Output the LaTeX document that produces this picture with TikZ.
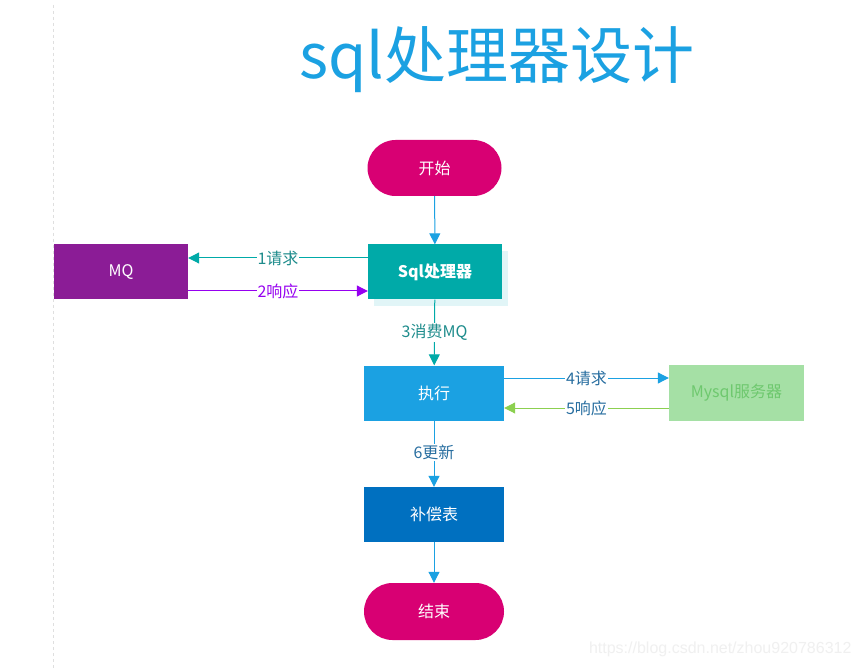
\documentclass[tikz,border=0pt]{standalone}
\usepackage{fontspec}
\setmainfont{Noto Sans CJK SC}
\newfontfamily\cjk{Noto Sans CJK SC}
\usetikzlibrary{arrows.meta,shapes.misc}
\definecolor{magentaA}{RGB}{216,0,115}
\definecolor{tealA}{RGB}{0,170,168}
\definecolor{tealT}{RGB}{30,140,140}
\definecolor{shadowA}{RGB}{225,245,247}
\definecolor{purpleA}{RGB}{139,28,150}
\definecolor{violetA}{RGB}{150,0,240}
\definecolor{blueA}{RGB}{27,161,226}
\definecolor{blueT}{RGB}{40,110,160}
\definecolor{navyA}{RGB}{0,112,192}
\definecolor{greenA}{RGB}{165,224,165}
\definecolor{greenT}{RGB}{110,200,110}
\definecolor{greenL}{RGB}{140,208,80}
\definecolor{titleA}{RGB}{27,161,226}
\tikzset{
  box/.style={rectangle, minimum width=#1, minimum height=55pt, inner sep=0pt, text=white, font=\cjk\fontsize{16}{18}\selectfont},
  box/.default=136pt,
  term/.style={rounded rectangle, fill=magentaA, minimum width=134pt, minimum height=56pt, inner sep=0pt, text=white, font=\cjk\fontsize{16}{18}\selectfont},
  conn/.style={line width=1pt, -{Triangle[width=11pt,length=11pt]}},
  lbl/.style={fill=white, inner sep=1pt, font=\cjk\fontsize{16}{18}\selectfont}
}
\begin{document}
\begin{tikzpicture}[x=1pt,y=-1pt]
\useasboundingbox (0,0) rectangle (862,668);
\fill[white] (0,0) rectangle (862,668);
\draw[gray!25, dashed, line width=0.8pt] (53,5) -- (53,668);
\node[text=titleA, font=\cjk\fontsize{62}{66}\selectfont] (title) at (497,60) {sql处理器设计};
% nodes
\node[term] (start) at (434.5,168) {开始};
\fill[shadowA] (374,251) rectangle (508,306);
\node[box=134pt, fill=tealA, font=\cjk\bfseries\fontsize{16}{18}\selectfont] (sql) at (435,272) {Sql处理器};
\node[box=134pt, fill=purpleA] (mq) at (121,272) {MQ};
\node[box=140pt, fill=blueA] (exec) at (434,393) {执行};
\node[box=135pt, minimum height=56pt, fill=greenA, text=greenT] (mysql) at (736.5,393) {Mysql服务器};
\node[box=140pt, fill=navyA] (comp) at (434,514.5) {补偿表};
\node[term, minimum width=140pt, minimum height=57pt] (end) at (434,611.5) {结束};
% connectors
\draw[conn, blueA] (start) -- (sql);
\draw[conn, tealA] ([yshift=14pt]sql.west) -- node[lbl, text=tealT] {1请求} ([yshift=14pt]mq.east);
\draw[conn, violetA] ([yshift=-19pt]mq.east) -- node[lbl, text=violetA] {2响应} ([yshift=-19pt]sql.west);
\draw[conn, tealA] (sql) -- node[lbl, text=tealT, pos=0.5] {3消费MQ} (exec);
\draw[conn, blueA] ([yshift=15pt]exec.east) -- node[lbl, text=blueT] {4请求} ([yshift=15pt]mysql.west);
\draw[conn, greenL] ([yshift=-15pt]mysql.west) -- node[lbl, text=blueT] {5响应} ([yshift=-15pt]exec.east);
\draw[conn, blueA] (exec) -- node[lbl, text=blueT, pos=0.48] {6更新} (comp);
\draw[conn, blueA] (comp) -- (end);
\node[text=gray!12, font=\fontspec{Liberation Sans}\fontsize{16}{18}\selectfont, anchor=east] (wm) at (855,649) {https://blog.csdn.net/zhou920786312};
\end{tikzpicture}
\end{document}
